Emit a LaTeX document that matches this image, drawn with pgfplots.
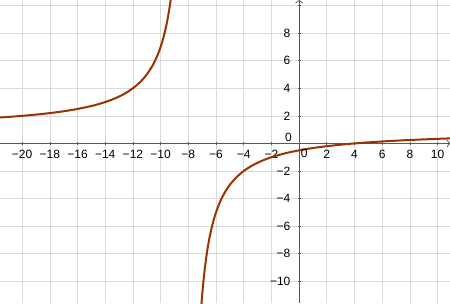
\documentclass[border=0pt]{standalone}
\usepackage{fontspec}
\setmainfont{Liberation Sans}
\usepackage{pgfplots}
\pgfplotsset{compat=1.18}
\usetikzlibrary{arrows.meta}
\definecolor{curve}{RGB}{153,51,0}
\definecolor{gridc}{RGB}{218,218,218}
\definecolor{axc}{RGB}{90,90,90}
\begin{document}
\begin{tikzpicture}
\begin{axis}[name=ax, scale only axis, width=450pt, height=303pt,
 xmin=-21.6, xmax=10.9, ymin=-11.57, ymax=10.4,
 axis lines=middle,
 axis line style={axc, line width=0.8pt, -{Straight Barb[length=2.5pt,width=7pt]}},
 grid=major, major grid style={gridc, line width=0.6pt},
 xtick={-20,-18,-16,-14,-12,-10,-8,-6,-4,-2,2,4,6,8,10},
 xticklabels={−20,−18,−16,−14,−12,−10,−8,−6,−4,−2,2,4,6,8,10},
 ytick={-10,-8,-6,-4,-2,2,4,6,8,10},
 yticklabels={−10,−8,−6,−4,−2,2,4,6,8,{}},
 tick style={axc, line width=0.6pt}, major tick length=3pt,
 tick label style={font=\fontsize{12}{14}\selectfont, text=black},
 xticklabel style={anchor=base, inner sep=0pt, yshift=-14pt},
 yticklabel style={anchor=east, inner sep=0pt, xshift=-7pt},
 clip=true,
]
\addplot[curve, line width=2pt, smooth] coordinates {
(-21.6,1.882) (-21,1.923) (-20,2) (-19,2.091) (-18,2.2) (-17,2.333) (-16,2.5)
(-15,2.714) (-14.5,2.846) (-14,3) (-13.5,3.182) (-13,3.4) (-12.5,3.667) (-12,4)
(-11.75,4.2) (-11.5,4.429) (-11.25,4.692) (-11,5) (-10.75,5.364) (-10.5,5.8)
(-10.25,6.333) (-10.1,6.714) (-10,7) (-9.9,7.316) (-9.8,7.667) (-9.7,8.059)
(-9.6,8.5) (-9.5,9) (-9.4,9.571) (-9.3,10.231) (-9.2,11) (-9.1,11.909)
};
\addplot[curve, line width=2pt, smooth] coordinates {
(-7.1,-12.333) (-7.05,-11.632) (-7,-11) (-6.95,-10.429) (-6.9,-9.909) (-6.8,-9)
(-6.7,-8.231) (-6.6,-7.571) (-6.5,-7) (-6.4,-6.5) (-6.25,-5.857) (-6.1,-5.316)
(-6,-5) (-5.75,-4.333) (-5.5,-3.8) (-5.25,-3.364) (-5,-3) (-4.5,-2.429) (-4,-2)
(-3.5,-1.667) (-3,-1.4) (-2.5,-1.182) (-2,-1) (-1,-0.714) (0,-0.5) (1,-0.333)
(2,-0.2) (3,-0.091) (4,0) (5,0.077) (6,0.143) (7,0.2) (8,0.25) (9,0.294)
(10,0.333) (11,0.368)
};
\node[anchor=base east, inner sep=0pt, xshift=-7pt, yshift=2pt, font=\fontsize{12}{14}\selectfont] at (axis cs:0,0) {0};
\node[anchor=base west, inner sep=0pt, xshift=1.5pt, yshift=-14pt, font=\fontsize{12}{14}\selectfont] at (axis cs:0,0) {0};
\end{axis}
\pgfresetboundingbox
\path (ax.south west) rectangle (ax.north east);
\end{tikzpicture}
\end{document}
